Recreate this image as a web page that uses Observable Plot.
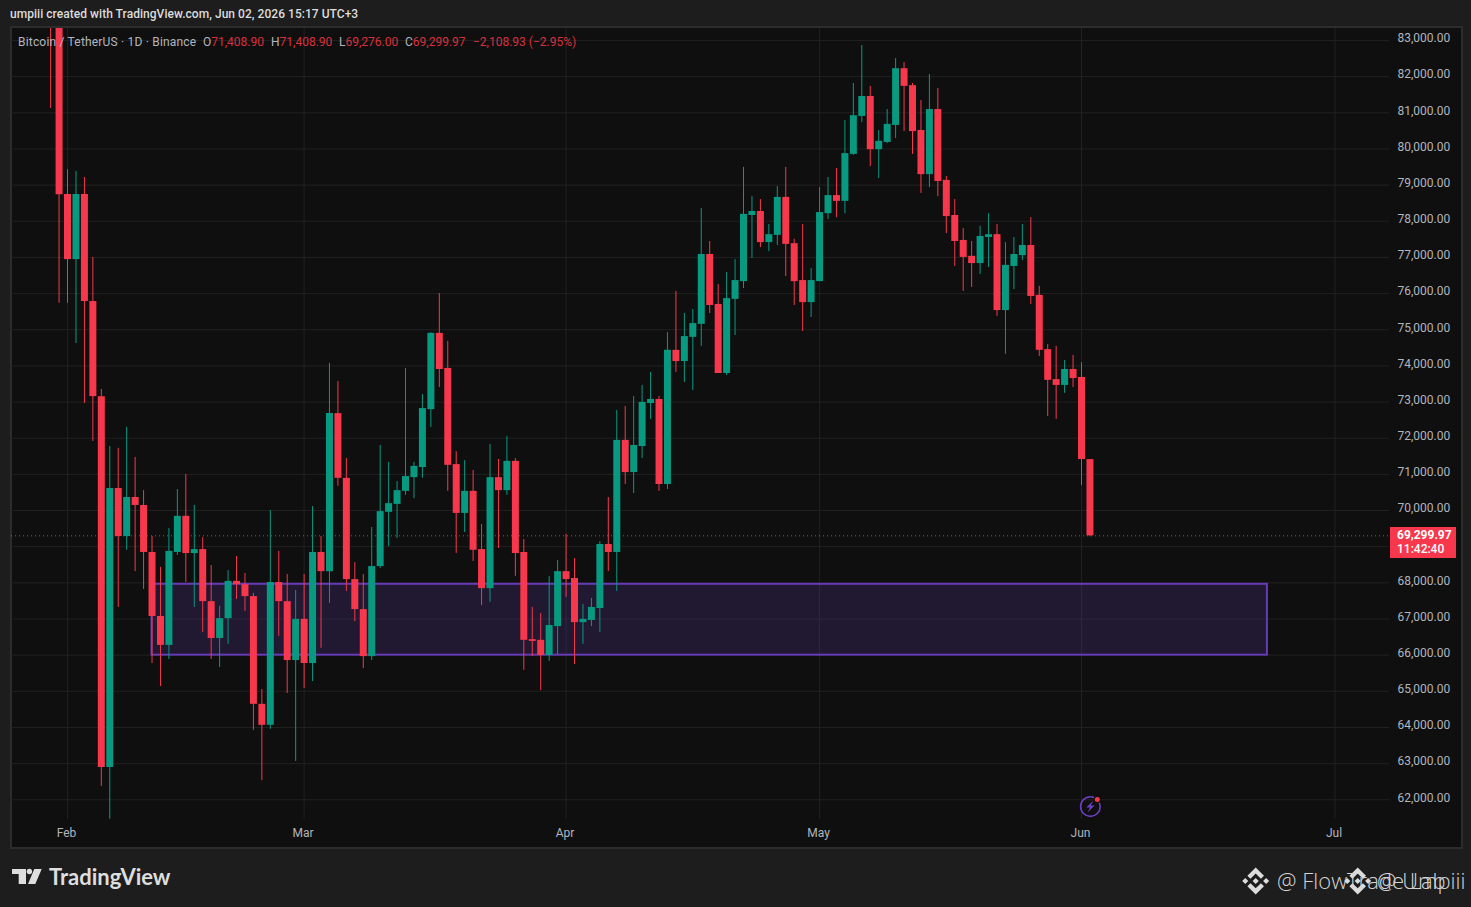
<!DOCTYPE html>
<html>
<head>
<meta charset="utf-8">
<script src="https://cdn.jsdelivr.net/npm/d3@7"></script>
<script src="https://cdn.jsdelivr.net/npm/@observablehq/plot@0.6"></script>
<style>
  html,body{margin:0;padding:0;width:1471px;height:907px;overflow:hidden;background:#1d1d1d;font-family:Roboto,sans-serif;}
  #pane{position:absolute;left:10px;top:26px;width:1449px;height:819px;background:#0f0f0f;border:2px solid #2c2c2c;}
  #chart{position:absolute;left:0;top:0;}
  #chart svg{display:block;max-width:none;}
  .t{position:absolute;white-space:nowrap;font-size:12px;line-height:14px;}
  .grey{color:#b2b5be;}
  .red{color:#d8303f;}
  #tag{position:absolute;left:1390px;top:527px;width:66px;height:31px;background:#f7374b;color:#fff;font-size:12px;line-height:14px;box-sizing:border-box;padding:1px 0 0 7px;}
  #tag b{font-weight:700;}
  #tag span{font-weight:500;}
  .over{position:absolute;left:0;top:0;pointer-events:none;}
  .mark{position:absolute;white-space:nowrap;color:#d4d4d4;font-size:22px;line-height:28px;font-family:"Open Sans",sans-serif;font-weight:300;}
</style>
</head>
<body>
<div id="pane"></div>
<div id="chart"></div>
<div class="t" style="left:10px;top:7px;color:#dcdcdc;font-weight:500;letter-spacing:.04px;">umpiii created with TradingView.com, Jun 02, 2026 15:17 UTC+3</div>
<div class="t grey" style="left:18px;top:35px;letter-spacing:.19px;">Bitcoin / TetherUS · 1D · Binance</div>
<div class="t" style="left:203px;top:35px;"><span class="grey">O</span><span class="red">71,408.90</span></div>
<div class="t" style="left:271px;top:35px;"><span class="grey">H</span><span class="red">71,408.90</span></div>
<div class="t" style="left:339px;top:35px;"><span class="grey">L</span><span class="red">69,276.00</span></div>
<div class="t" style="left:405px;top:35px;"><span class="grey">C</span><span class="red">69,299.97</span></div>
<div class="t red" style="left:473px;top:35px;">−2,108.93 (−2.95%)</div>
<div id="tag"><b>69,299.97</b><br><span>11:42:40</span></div>
<svg class="over" width="1471" height="907">
  <circle cx="1090.4" cy="806.6" r="9.8" fill="none" stroke="#6a3fc4" stroke-width="1.6"/>
  <path d="M1093.2 800.8 L1086.2 807.6 L1090 807.6 L1087.6 812.4 L1094.6 805.6 L1090.8 805.6 Z" fill="#6a3fc4"/>
  <circle cx="1097.3" cy="799.4" r="3.6" fill="#0f0f0f"/>
  <circle cx="1097.3" cy="799.4" r="2.5" fill="#f7374b"/>
  <g fill="#dedede">
    <path d="M12 869 H26 V884 H18.7 V874 H12 Z"/>
    <circle cx="29.4" cy="871.5" r="2.7"/>
    <path d="M34.3 869 H41.7 L35.3 884 H28 Z"/>
  </g>
  <g fill="#dcdcdc">
    <g transform="translate(1242.2,867.5) scale(0.213)">
      <path d="M38.73 53.2l24.59-24.58 24.6 24.6 14.3-14.31L63.32 0 24.43 38.89zM0 63.31l14.3-14.31 14.31 14.31-14.31 14.3zM38.73 73.41l24.59 24.59 24.6-24.6 14.31 14.29-38.9 38.91-38.91-38.88zM98 63.31l14.3-14.31 14.31 14.3-14.31 14.32zM77.83 63.3L63.32 48.78 52.59 59.51l-1.24 1.23-2.54 2.54 14.51 14.5 14.51-14.47z"/>
    </g>
    <g transform="translate(1344.2,867.5) scale(0.213)">
      <path d="M38.73 53.2l24.59-24.58 24.6 24.6 14.3-14.31L63.32 0 24.43 38.89zM0 63.31l14.3-14.31 14.31 14.31-14.31 14.3zM38.73 73.41l24.59 24.59 24.6-24.6 14.31 14.29-38.9 38.91-38.91-38.88zM98 63.31l14.3-14.31 14.31 14.3-14.31 14.32zM77.83 63.3L63.32 48.78 52.59 59.51l-1.24 1.23-2.54 2.54 14.51 14.5 14.51-14.47z"/>
    </g>
  </g>
</svg>
<div class="t" style="left:49px;top:864px;font-family:Lato,sans-serif;font-weight:700;font-size:22px;line-height:26px;color:#dedede;">TradingView</div>
<div class="mark" style="left:1277px;top:866px;">@ FlowTrade Lab</div>
<div class="mark" style="left:1377px;top:866px;">@ Umpiii</div>
<script>
const firstDay = new Date(Date.UTC(2026, 0, 30));

const open = [
  85400,84100,
  78740,76940,78740,75780,73150,62890,70610,69280,70360,70140,68840,67070,66270,68840,69840,68810,68920,67480,66460,67010,68040,67950,67620,64640,64060,68010,67480,65850,
  66990,65770,68840,68310,72680,70890,68090,67260,65960,68450,69950,70170,70530,70910,71190,72790,74900,73930,71270,69920,70530,68920,67840,70910,70550,71360,68840,66430,66410,65990,66790,
  68310,68120,66900,66960,67290,69060,68840,71940,71050,71770,72960,73070,70720,74430,74120,74790,75150,77080,75700,73790,75840,76330,78160,78270,77410,77610,78660,77380,76360,75750,
  76330,78210,78710,78550,79850,80900,81450,79980,80180,80650,82220,81750,80510,79290,81090,79130,78160,77470,77030,76830,77550,77630,75530,76750,77050,77330,75950,74450,73620,73460,73900,
  73680,71408.9
];
const high = [
  85600,84300,
  79430,79380,79210,77000,73350,71770,71720,72300,71470,70550,69280,68430,69500,70580,71000,70140,69250,68480,67350,68340,68730,68260,67710,65050,70000,68870,68230,67790,
  68230,70110,69280,74070,73570,71440,68560,68230,69530,71800,71330,70800,73930,71330,73210,74920,76000,74680,71630,71380,71110,69610,71830,71410,72050,71440,69200,67320,67150,68180,68620,
  69340,68670,67400,67570,69140,70360,72770,72880,73150,73460,73820,73150,74920,76060,75450,75560,78350,77440,76250,76580,76940,79490,78680,78600,77910,78960,79490,77500,77910,76690,
  78930,79210,79460,80790,81810,82860,81730,80510,81090,82500,82390,81810,81340,82060,81670,79240,78600,77800,77440,77860,78210,77910,77410,77550,77910,78100,76200,74590,74540,74150,74290,
  74090,71408.9
];
const low = [
  81120,75730,
  75730,74620,72960,71910,62370,61460,67320,68900,68310,67820,65770,65130,65880,68760,68010,67320,66630,65880,65660,66300,67540,67210,63920,62530,63950,66520,64940,63060,
  65080,65270,66190,67430,70670,67760,66930,65630,65850,68400,69000,69230,70420,70330,70890,72300,73400,70530,68810,69390,68590,67370,67460,68950,70420,68180,65580,65960,65020,65830,66020,
  67600,65740,66300,66790,66630,68310,67760,70720,70470,71440,72520,70530,70580,73820,73540,73320,74540,75450,73790,73730,74840,76140,76970,77270,77160,77330,76470,75670,74950,75340,
  76330,78050,78100,78210,79820,80730,79510,79180,80150,80290,80480,79850,78770,78930,78680,77660,76750,76060,76170,76530,76720,75370,74320,76110,76910,75700,74260,72600,72520,73240,73400,
  70690,69276
];
const close = [
  84100,78730,
  76940,78740,75780,73150,62890,70610,69280,70360,70140,68840,67070,66270,68870,69840,68810,68920,67480,66460,67010,68040,67950,67620,64640,64060,68010,67480,65850,66990,
  65770,68840,68310,72680,70890,68090,67260,65960,68450,69970,70190,70550,70940,71220,72820,74900,73900,71250,69920,70530,68900,67840,70910,70550,71360,68810,66410,66380,65990,66820,68310,
  68090,66900,66990,67320,69060,68840,71940,71050,71800,72990,73070,70720,74430,74120,74810,75170,77080,75670,73790,75860,76360,78190,78270,77410,77630,78660,77360,76330,75750,76360,
  78240,78710,78550,79870,80920,81450,79980,80210,80680,82220,81730,80480,79290,81090,79100,78130,77440,77000,76830,77580,77630,75530,76780,77080,77330,75920,74430,73600,73460,73900,73650,
  71408.9,69299.97
];
const priceTicks = [62000,63000,64000,65000,66000,67000,68000,69000,70000,71000,72000,73000,74000,75000,76000,77000,78000,79000,80000,81000,82000,83000];
const hiddenPriceLabel = 69000; // covered by the last-price tag in the reference
const monthTicks = [[1,"Feb"],[2,"Mar"],[3,"Apr"],[4,"May"],[5,"Jun"],[6,"Jul"]].map(([m,label]) => ({date:new Date(Date.UTC(2026,m,1)),label}));
const lastPrice = 69299.97;
const zone = [{x1:new Date(Date.UTC(2026,1,11)), x2:new Date(Date.UTC(2026,5,23)), y1:66000, y2:67960}];

const candles = open.map((o,i) => ({date:d3.utcDay.offset(firstDay,i), o, h:high[i], l:low[i], c:close[i], up:close[i] >= o}));
const candleColor = d => d.up ? "#089981" : "#f7374b";
const labelFor = d => monthTicks.find(t => +t.date === +d).label;

const dayMs = 864e5;
const feb1 = Date.UTC(2026,1,1);

const plot = Plot.plot({
  width:1471, height:907,
  marginLeft:11, marginRight:82, marginTop:28, marginBottom:88,
  style:{background:"transparent",fontFamily:"Roboto,sans-serif",fontSize:"12px",color:"#b2b5be"},
  x:{type:"utc",domain:[new Date(feb1-6.63*dayMs),new Date(feb1+156.45*dayMs)]},
  y:{domain:[61455,83331]},
  marks:[
    Plot.ruleY(priceTicks,{stroke:"#212121",strokeWidth:1}),
    Plot.ruleX(monthTicks,{x:"date",stroke:"#212121",strokeWidth:1}),
    Plot.rect(zone,{x1:"x1",x2:"x2",y1:"y1",y2:"y2",fill:"#673ab7",fillOpacity:0.2,stroke:"#673ab7",strokeWidth:2}),
    Plot.ruleY([lastPrice],{stroke:"#f7374b",strokeWidth:1,strokeDasharray:"1 3",strokeOpacity:0.9}),
    Plot.ruleX(candles,{x:"date",y1:"l",y2:"h",stroke:candleColor,strokeWidth:1,clip:true}),
    Plot.ruleX(candles,{x:"date",y1:"o",y2:"c",stroke:candleColor,strokeWidth:7,clip:true}),
    Plot.axisY(priceTicks.filter(v => v !== hiddenPriceLabel),{anchor:"right",tickSize:0,tickPadding:8,dy:-2,tickFormat:d3.format(",.2f"),label:null,fill:"#b2b5be"}),
    Plot.axisX(monthTicks.map(t=>t.date),{anchor:"bottom",tickSize:0,tickPadding:9,dx:-1,tickFormat:labelFor,label:null,fill:"#b2b5be"})
  ]
});
document.getElementById("chart").appendChild(plot);
</script>
</body>
</html>
